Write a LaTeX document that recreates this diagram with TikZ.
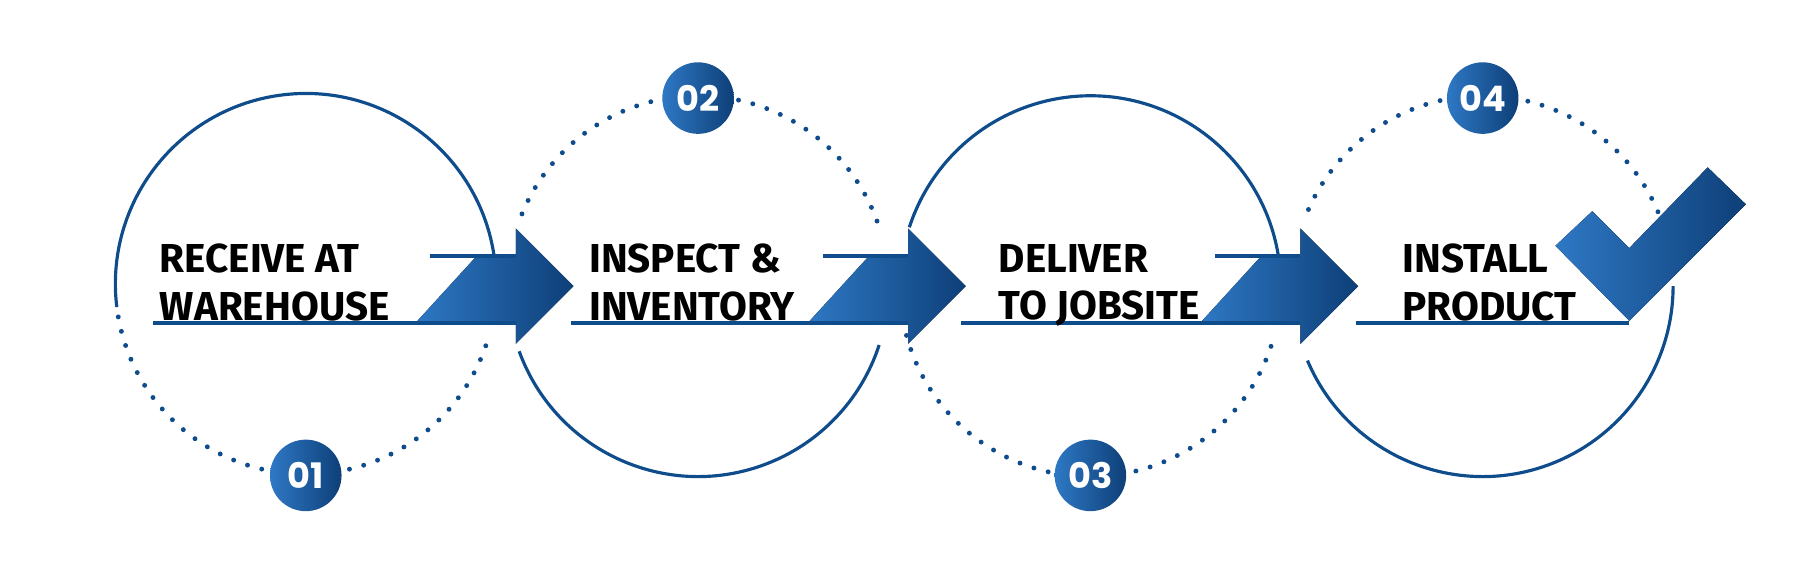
\documentclass[tikz,border=0pt]{standalone}
\usepackage{fontspec}
\setmainfont{Poppins}
\newfontfamily\labelfont{Fira Sans}
\definecolor{stepblue}{HTML}{0F4C8C}
\definecolor{lightblue}{HTML}{2E78C4}
\definecolor{darkblue}{HTML}{0E3F78}
\begin{document}
\begin{tikzpicture}[x=0.1154mm,y=-0.1154mm]
\tikzset{
  solidarc/.style={draw=stepblue, line width=0.9pt},
  dotarc/.style={draw=stepblue, line width=1.4pt, line cap=round, dash pattern=on 0pt off 4.2pt},
  badge/.style={circle, minimum size=62*0.1154mm, inner sep=0pt, left color=lightblue, right color=darkblue, text=white, font=\bfseries\normalsize},
  steptext/.style={anchor=north west, align=left, font=\labelfont\bfseries\fontsize{11.5}{13.5}\selectfont, inner sep=0pt},
  shaft/.style={draw=stepblue, line width=1.2pt},
  headfill/.style={left color=lightblue, right color=darkblue, draw=none}
}
\useasboundingbox (0,0) rectangle (1560,499);

% circles (y is flipped, so angles run clockwise)
\coordinate (c1) at (265,246);
\coordinate (c2) at (605,248);
\coordinate (c3) at (945,248);
\coordinate (c4) at (1285,248);
\draw[solidarc] (c1) ++(-8:165) arc[start angle=-8, end angle=-187, radius=165];
\draw[dotarc] (c1) ++(-190:165) arc[start angle=-190, end angle=-342, radius=165];
\draw[dotarc] (c2) ++(-20:165) arc[start angle=-20, end angle=-160, radius=165];
\draw[solidarc] (c2) ++(-200:165) arc[start angle=-200, end angle=-342, radius=165];
\draw[solidarc] (c3) ++(-8:165) arc[start angle=-8, end angle=-162, radius=165];
\draw[dotarc] (c3) ++(-195:165) arc[start angle=-195, end angle=-343, radius=165];
\draw[dotarc] (c4) ++(-23:165) arc[start angle=-23, end angle=-160, radius=165];
\draw[solidarc] (c4) ++(-203:165) arc[start angle=-203, end angle=-360, radius=165];

% arrows
\foreach \dx/\xs in {0/133, 340/495, 680/833} {
  \fill[headfill] (360+\dx,280) -- (413+\dx,222) -- (447+\dx,222) -- (447+\dx,198)
    -- (497+\dx,248) -- (447+\dx,298) -- (447+\dx,280) -- cycle;
  \draw[shaft] (373+\dx,222) -- (447+\dx,222);
  \draw[shaft] (\xs,280) -- (447+\dx,280);
}
\coordinate (lineend) at (1412,280);
\draw[shaft] (1175,280) -- (lineend);
\fill[headfill] (1348,213) -- (1380,183) -- (1412,215) -- (1480,145) -- (1513,177) -- (1412,278) -- cycle;

% badges
\node[badge] (b1) at (265,412) {01};
\node[badge] (b2) at (605,85) {02};
\node[badge] (b3) at (945,412) {03};
\node[badge] (b4) at (1285,85) {04};

% labels
\node[steptext] (t1) at (138,211) {RECEIVE AT\\WAREHOUSE};
\node[steptext] (t2) at (510,211) {INSPECT \&\\INVENTORY};
\node[steptext] (t3) at (865,211) {DELIVER\\TO JOBSITE};
\node[steptext] (t4) at (1215,211) {INSTALL\\PRODUCT};
\end{tikzpicture}
\end{document}
